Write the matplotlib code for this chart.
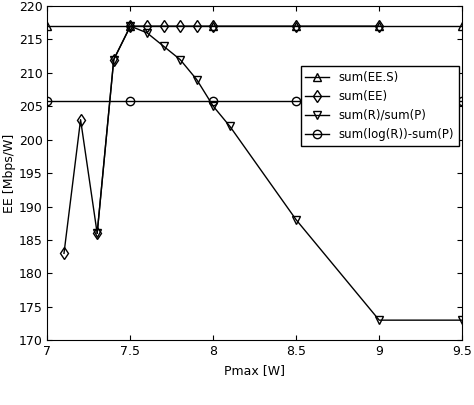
import matplotlib
matplotlib.use('Agg')
import matplotlib.pyplot as plt

x_ees = [7, 7.5, 8, 8.5, 9, 9.5]
y_ees = [217, 217, 217, 217, 217, 217]
x_ee = [7.1, 7.2, 7.3, 7.4, 7.5, 7.6, 7.7, 7.8, 7.9, 8.0, 8.5, 9.0]
y_ee = [183, 203, 186, 212, 217, 217, 217, 217, 217, 217, 217, 217]
x_rp = [7.3, 7.4, 7.5, 7.6, 7.7, 7.8, 7.9, 8.0, 8.1, 8.5, 9.0, 9.5]
y_rp = [186, 212, 217, 216, 214, 212, 209, 205, 202, 188, 173, 173]
x_log = [7, 7.5, 8, 8.5, 9, 9.5]
y_log = [205.8, 205.8, 205.8, 205.8, 205.8, 205.8]

fig = plt.figure(figsize=(4.74, 4.05), dpi=100)
ax = fig.add_axes([0.1, 0.16, 0.875, 0.825])
mk = dict(color='k', lw=1, mfc='none', mec='k', ms=6)
ax.plot(x_ees, y_ees, '^-', label='sum(EE.S)', **mk)
ax.plot(x_ee, y_ee, 'd-', label='sum(EE)', **mk)
ax.plot(x_rp, y_rp, 'v-', label='sum(R)/sum(P)', **mk)
ax.plot(x_log, y_log, 'o-', label='sum(log(R))-sum(P)', **mk)
ax.set_xlim(7, 9.5)
ax.set_ylim(170, 220)
ax.set_xticks([7, 7.5, 8, 8.5, 9, 9.5])
ax.set_xticklabels(['7', '7.5', '8', '8.5', '9', '9.5'])
ax.set_yticks(range(170, 221, 5))
ax.tick_params(direction='in', labelsize=9, top=True, right=True)
ax.set_xlabel('Pmax [W]', fontsize=9)
ax.set_ylabel('EE [Mbps/W]', fontsize=9, labelpad=2)
ax.legend(loc='upper right', bbox_to_anchor=(1.0, 0.83), fontsize=8.5,
          fancybox=False, edgecolor='k', framealpha=1, borderaxespad=0.3)
fig.savefig('out.png')
